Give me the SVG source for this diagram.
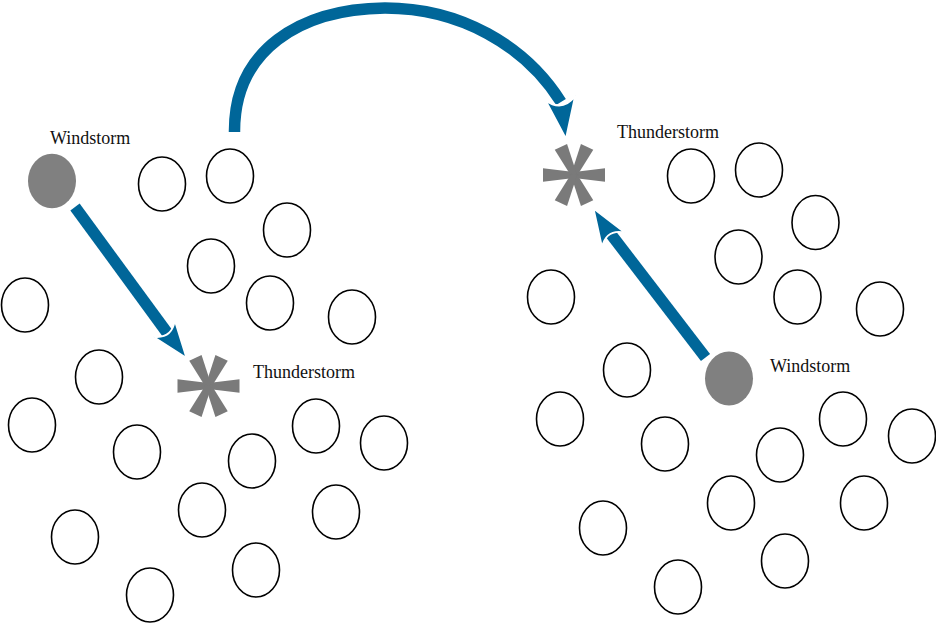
<svg xmlns="http://www.w3.org/2000/svg" xmlns:xlink="http://www.w3.org/1999/xlink" width="936" height="624" viewBox="0 0 936 624">
<style>
.cell{fill:none;stroke:#000;stroke-width:1.6}
.wind{fill:#808080}
.lbl{font-family:"Liberation Serif","Times New Roman",serif;font-size:18px;fill:#111}
.shaft{fill:none;stroke:#006699;stroke-width:11.5}
.head{fill:#006699;stroke:#fff;stroke-width:1.8;stroke-linejoin:miter}
.ast{fill:#7a7a7a}
</style>
<defs>
<path id="arm" d="M0,-3 L31,-6.8 L31,6.8 L0,3 Z"/>
<g id="asterisk">
<use xlink:href="#arm" href="#arm"/>
<use xlink:href="#arm" href="#arm" transform="rotate(180)"/>
<use xlink:href="#arm" href="#arm" transform="rotate(-65)"/>
<use xlink:href="#arm" href="#arm" transform="rotate(-115)"/>
<use xlink:href="#arm" href="#arm" transform="rotate(65)"/>
<use xlink:href="#arm" href="#arm" transform="rotate(115)"/>
</g>
<path id="ahead" d="M0,0 L-37,-13.5 Q-24,0 -37,13.5 Z"/>
</defs>
<rect width="936" height="624" fill="#fff"/>
<g id="connectors">
<line class="shaft" x1="75" y1="207" x2="168" y2="334"/>
<use class="head" xlink:href="#ahead" href="#ahead" transform="translate(186.5,358) rotate(52.7)"/>
<line class="shaft" x1="705.5" y1="357.5" x2="610" y2="233"/>
<use class="head" xlink:href="#ahead" href="#ahead" transform="translate(593.5,208.5) rotate(-122.5)"/>
<path class="shaft" d="M234.5,132 C234,50 300,9 385,8 C460,8 525,45 561,102"/>
<use class="head" xlink:href="#ahead" href="#ahead" transform="translate(566,139) rotate(82) scale(1.12)"/>
</g>
<g id="windstorm-left"><ellipse class="wind" cx="52" cy="181" rx="24" ry="27.3"/><text class="lbl" x="50" y="144">Windstorm</text></g>
<g id="thunderstorm-left"><use class="ast" xlink:href="#asterisk" href="#asterisk" transform="translate(208.5,386)"/><text class="lbl" x="253" y="378">Thunderstorm</text></g>
<g id="windstorm-right"><ellipse class="wind" cx="729" cy="378.5" rx="24" ry="27"/><text class="lbl" x="770" y="372">Windstorm</text></g>
<g id="thunderstorm-right"><use class="ast" xlink:href="#asterisk" href="#asterisk" transform="translate(574,175)"/><text class="lbl" x="617" y="138">Thunderstorm</text></g>
<g id="cells-left">
<ellipse class="cell" cx="162" cy="184" rx="23.5" ry="27"/>
<ellipse class="cell" cx="230" cy="176" rx="23.5" ry="27"/>
<ellipse class="cell" cx="287" cy="230" rx="23.5" ry="27"/>
<ellipse class="cell" cx="211" cy="266" rx="23.5" ry="27"/>
<ellipse class="cell" cx="270" cy="303" rx="23.5" ry="27"/>
<ellipse class="cell" cx="352" cy="317" rx="23.5" ry="27"/>
<ellipse class="cell" cx="25" cy="305" rx="23.5" ry="27"/>
<ellipse class="cell" cx="99" cy="377" rx="23.5" ry="27"/>
<ellipse class="cell" cx="32" cy="425" rx="23.5" ry="27"/>
<ellipse class="cell" cx="137" cy="452" rx="23.5" ry="27"/>
<ellipse class="cell" cx="252" cy="461" rx="23.5" ry="27"/>
<ellipse class="cell" cx="316" cy="426" rx="23.5" ry="27"/>
<ellipse class="cell" cx="384" cy="443" rx="23.5" ry="27"/>
<ellipse class="cell" cx="202" cy="510" rx="23.5" ry="27"/>
<ellipse class="cell" cx="336" cy="512" rx="23.5" ry="27"/>
<ellipse class="cell" cx="75" cy="537" rx="23.5" ry="27"/>
<ellipse class="cell" cx="256" cy="570" rx="23.5" ry="27"/>
<ellipse class="cell" cx="150" cy="595" rx="23.5" ry="27"/>
</g>
<g id="cells-right">
<ellipse class="cell" cx="691" cy="176" rx="23.5" ry="27"/>
<ellipse class="cell" cx="759" cy="170" rx="23.5" ry="27"/>
<ellipse class="cell" cx="815.5" cy="222.5" rx="23.5" ry="27"/>
<ellipse class="cell" cx="738.5" cy="257" rx="23.5" ry="27"/>
<ellipse class="cell" cx="797.5" cy="297" rx="23.5" ry="27"/>
<ellipse class="cell" cx="880" cy="309" rx="23.5" ry="27"/>
<ellipse class="cell" cx="551" cy="297" rx="23.5" ry="27"/>
<ellipse class="cell" cx="627" cy="370" rx="23.5" ry="27"/>
<ellipse class="cell" cx="560" cy="419" rx="23.5" ry="27"/>
<ellipse class="cell" cx="665" cy="444" rx="23.5" ry="27"/>
<ellipse class="cell" cx="780" cy="455" rx="23.5" ry="27"/>
<ellipse class="cell" cx="843" cy="419" rx="23.5" ry="27"/>
<ellipse class="cell" cx="912" cy="436" rx="23.5" ry="27"/>
<ellipse class="cell" cx="731" cy="503" rx="23.5" ry="27"/>
<ellipse class="cell" cx="864" cy="503" rx="23.5" ry="27"/>
<ellipse class="cell" cx="603" cy="528" rx="23.5" ry="27"/>
<ellipse class="cell" cx="785" cy="561" rx="23.5" ry="27"/>
<ellipse class="cell" cx="678" cy="587" rx="23.5" ry="27"/>
</g>
</svg>
